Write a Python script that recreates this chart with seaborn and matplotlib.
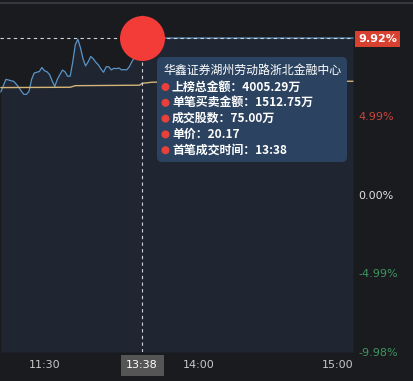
import matplotlib
matplotlib.use("Agg")
import matplotlib.pyplot as plt
from matplotlib.patches import FancyBboxPatch, Circle
from matplotlib.lines import Line2D
import seaborn as sns
import pandas as pd

# ---------------- data ----------------
# minute index of the trading day (0 = 9:30, 120 = 11:30/13:00, 240 = 15:00)
minute_idx = list(range(103, 159)) + [240]
price_pct = [6.50, 6.90, 7.30, 7.26, 7.21, 7.18, 7.00, 6.80, 6.55, 6.35,
             6.35, 6.55, 7.30, 7.70, 7.75, 7.80, 8.05, 7.85, 7.78, 7.60,
             7.20, 6.85, 7.30, 7.60, 7.89, 7.78, 7.50, 7.50, 8.40, 9.50,
             9.84, 9.30, 8.60, 8.15, 8.42, 8.75, 8.60, 8.38, 8.21, 7.95,
             7.75, 8.10, 8.10, 7.90, 8.00, 7.98, 8.02, 7.90, 7.92, 7.90,
             8.10, 8.42, 8.70, 9.10, 9.50, 9.92, 9.92]
avg_idx = [103, 130, 132, 157, 158, 162, 240]
avg_pct = [6.78, 6.80, 6.90, 6.93, 7.05, 7.12, 7.18]

y_ticks = [9.92, 4.99, 0.00, -4.99, -9.98]
y_labels = ["9.92%", "4.99%", "0.00%", "-4.99%", "-9.98%"]
x_ticks = [120, 158, 180, 240]
x_labels = ["11:30", "13:38", "14:00", "15:00"]

cross_idx = 158
cross_pct = 9.92

tip_title = "华鑫证券湖州劳动路浙北金融中心"
tip_rows = ["上榜总金额：4005.29万", "单笔买卖金额：1512.75万",
            "成交股数：75.00万", "单价：20.17", "首笔成交时间：13:38"]

# ---------------- style ----------------
BG = "#191b1f"
sns.set_style("dark", rc={"axes.facecolor": BG, "figure.facecolor": BG})
plt.rcParams["font.family"] = ["Noto Sans CJK SC", "DejaVu Sans"]

W, H = 414, 381
fig = plt.figure(figsize=(W / 100, H / 100), dpi=100, facecolor=BG)
ax = fig.add_axes([0, (H - 352) / H, 354 / W, (352 - 12) / H])
ax.set_facecolor(BG)

price_df = pd.DataFrame({"idx": minute_idx, "pct": price_pct})
avg_df = pd.DataFrame({"idx": avg_idx, "pct": avg_pct})

ymin, ymax = -9.98, 11.57
ax.fill_between(price_df["idx"], price_df["pct"], ymin, color="#1f2631", lw=0, zorder=1)
sns.lineplot(data=price_df, x="idx", y="pct", ax=ax, color="#5b95c8", lw=0.9, zorder=3)
sns.lineplot(data=avg_df, x="idx", y="pct", ax=ax, color="#d4b478", lw=1.0, zorder=3)

ax.set_xlim(102.7, 240.4)
ax.set_ylim(ymin, ymax)

# crosshair
ax.axhline(cross_pct, color="#cfd3d8", lw=0.8, ls=(0, (3, 3)), zorder=4)
ax.axvline(cross_idx, color="#cfd3d8", lw=0.8, ls=(0, (3, 3)), zorder=4)
ax.scatter([cross_idx], [cross_pct], s=1050, color="#f33b37", zorder=6,
           clip_on=False, linewidths=0)

for s in ax.spines.values():
    s.set_visible(False)
ax.grid(False)
ax.set_xlabel("")
ax.set_ylabel("")

# y ticks on right
ax.yaxis.tick_right()
ax.set_yticks(y_ticks)
ax.set_yticklabels(y_labels, fontfamily="DejaVu Sans")
ax.tick_params(axis="y", length=0, pad=3, labelsize=8)
y_colors = ["#ffffff", "#c9453d", "#e0e0e0", "#3f9560", "#3f9560"]
for lab, c in zip(ax.get_yticklabels(), y_colors):
    lab.set_color(c)
ylab0 = ax.get_yticklabels()[0]
ylab0.set_fontweight("bold")
ylab0.set_bbox(dict(boxstyle="square,pad=0.3", fc="#d8402f", ec="none"))

# x ticks
ax.set_xticks(x_ticks)
ax.set_xticklabels(x_labels, fontfamily="DejaVu Sans")
ax.tick_params(axis="x", length=0, pad=6, labelsize=8, colors="#c8c8c8")
xl = ax.get_xticklabels()
xl[1].set_color("#ffffff")
xl[1].set_bbox(dict(boxstyle="square,pad=0.5", fc="#555555", ec="none"))
xl[3].set_horizontalalignment("right")

# top separator
fig.add_artist(Line2D([0, 1], [1 - 2.5 / H] * 2, color="#34373c", lw=1.5))

# overlay for tooltip (pixel coordinates)
ov = fig.add_axes([0, 0, 1, 1])
ov.set_xlim(0, W)
ov.set_ylim(H, 0)
ov.axis("off")
ov.patch.set_alpha(0)
ov.add_patch(FancyBboxPatch((157, 57), 190, 105,
                            boxstyle="round,pad=0,rounding_size=5",
                            fc="#2b4360", ec="none", zorder=7))
ov.text(163, 70, tip_title, color="#ffffff", fontsize=8.6, va="center",
        ha="left", zorder=8, fontweight="medium")
for i, row in enumerate(tip_rows):
    yy = 87 + i * 15.8
    ov.add_patch(Circle((165.5, yy), 3.3, color="#e8403a", zorder=8))
    ov.text(172, yy, row, color="#ffffff", fontsize=8.6, va="center",
            ha="left", zorder=8, fontweight="bold")

fig.savefig("out.png", dpi=100, facecolor=BG)
